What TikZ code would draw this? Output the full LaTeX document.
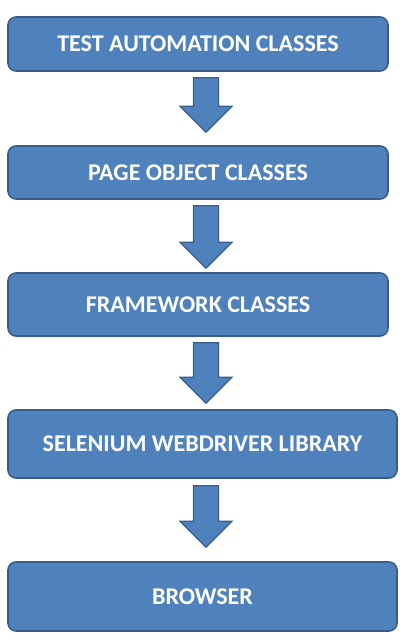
\documentclass[tikz,border=0pt]{standalone}
\usepackage{fontspec}
\setmainfont{Carlito}
\usetikzlibrary{calc}
\definecolor{boxfill}{RGB}{79,129,189}
\definecolor{boxline}{RGB}{56,93,138}

\begin{document}
\begin{tikzpicture}[x=1pt,y=-1pt,
    layer/.style={draw=boxline,fill=boxfill,line width=1.6pt,rounded corners=8pt,
        text=white,font=\fontsize{24}{28}\selectfont\bfseries,inner sep=0pt},
    blockarrow/.style={draw=boxline,fill=boxfill,line width=1.2pt,
        to path={($(\tikztostart)+(-12.5,0)$) -- ($(\tikztotarget)+(-12.5,-26)$)
            -- ($(\tikztotarget)+(-26,-26)$) -- (\tikztotarget)
            -- ($(\tikztotarget)+(26,-26)$) -- ($(\tikztotarget)+(12.5,-26)$)
            -- ($(\tikztostart)+(12.5,0)$) -- cycle}}]
                \useasboundingbox (0,0) rectangle (405,640);
                \node[layer,minimum width=380pt,minimum height=54pt] (T) at (198,44) {TEST AUTOMATION CLASSES};
                \node[layer,minimum width=380pt,minimum height=53pt] (P) at (198,172.5) {PAGE OBJECT CLASSES};
                \node[layer,minimum width=380pt,minimum height=63pt] (F) at (198,304.5) {FRAMEWORK CLASSES};
                \node[layer,minimum width=389pt,minimum height=68pt] (S) at (202.5,444) {SELENIUM WEBDRIVER LIBRARY};
                \node[layer,minimum width=389pt,minimum height=69pt] (B) at (202.5,596.5) {BROWSER};
                \draw[blockarrow] ([xshift=8pt,yshift=-6pt]T.south) to ([xshift=8pt,yshift=13pt]P.north);
                \draw[blockarrow] ([xshift=8pt,yshift=-6pt]P.south) to ([xshift=8pt,yshift=4pt]F.north);
                \draw[blockarrow] ([xshift=8pt,yshift=-6pt]F.south) to ([xshift=3.5pt,yshift=6pt]S.north);
                \draw[blockarrow] ([xshift=3.5pt,yshift=-7pt]S.south) to ([xshift=3.5pt,yshift=14pt]B.north);
            \end{tikzpicture}
\end{document}
